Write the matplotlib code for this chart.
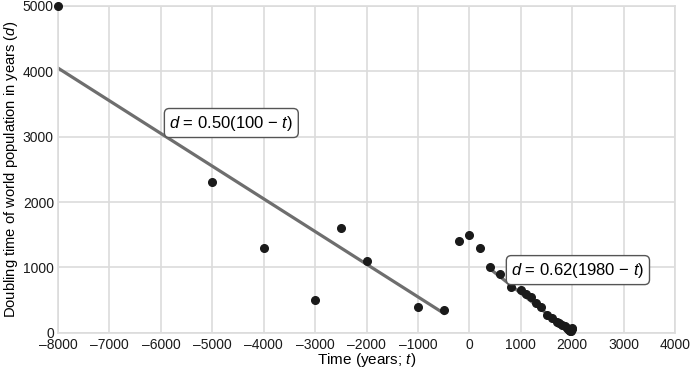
# Doubling time of world population vs time, with two linear fits
import numpy as np
import matplotlib.pyplot as plt

plt.rcParams['font.family'] = ['Liberation Sans', 'DejaVu Sans']
plt.rcParams['mathtext.fontset'] = 'custom'
plt.rcParams['mathtext.rm'] = 'Liberation Sans'
plt.rcParams['mathtext.it'] = 'Liberation Sans:italic'

# data
years = [-8000, -5000, -4000, -3000, -2500, -2000, -1000, -500,
         -200, 0, 200, 400, 600, 800, 1000, 1100, 1200, 1300, 1400,
         1500, 1600, 1700, 1750, 1800, 1850, 1900, 1920, 1940, 1950,
         1960, 1970, 1980, 1990, 2000]
doubling = [5000, 2300, 1300, 500, 1600, 1100, 400, 350,
            1400, 1500, 1300, 1000, 900, 700, 650, 600, 550, 450, 400,
            280, 220, 170, 150, 120, 100, 80, 60, 45, 40,
            35, 35, 45, 60, 80]

fit1_t = [-8000, -500]
fit2_t = [400, 1980]

def fit1(t):
    return 0.50 * (100 - np.asarray(t))

def fit2(t):
    return 0.62 * (1980 - np.asarray(t))

fig = plt.figure(figsize=(6.91, 3.74), dpi=100)
ax = fig.add_axes([0.084, 0.11, 0.893, 0.874])

grid_c = '#dcdcdc'
ax.plot(fit1_t, fit1(fit1_t), color='#6e6e6e', lw=2.3, zorder=2)
ax.plot(fit2_t, fit2(fit2_t), color='#6e6e6e', lw=2.3, zorder=2)
ax.plot(years, doubling, 'o', color='#1a1a1a', markersize=5.5, zorder=3, clip_on=False)

ax.set_xlim(-8000, 4000)
ax.set_ylim(0, 5000)
ax.set_xticks(np.arange(-8000, 4001, 1000))
ax.set_yticks(np.arange(0, 5001, 1000))
ax.set_xticklabels([str(v).replace('-', '\u2013') for v in range(-8000, 4001, 1000)])
ax.grid(True, color=grid_c, lw=1.2)
ax.set_axisbelow(True)
for s in ax.spines.values():
    s.set_color(grid_c)
    s.set_linewidth(1.2)
ax.tick_params(length=0, labelsize=10, colors='#1a1a1a')
ax.tick_params(axis='x', pad=4)
ax.tick_params(axis='y', pad=3)

ax.set_xlabel('Time (years; $t$)', fontsize=11, labelpad=-1)
ax.set_ylabel('Doubling time of world population in years ($d$)', fontsize=10.6, labelpad=2)

box = dict(boxstyle='round,pad=0.3,rounding_size=0.3', fc='white', ec='#555555', lw=1)
ax.text(-4630, 3210, '$d$ = 0.50(100 \u2212 $t$)', fontsize=12, ha='center', va='center', bbox=box)
ax.text(2110, 960, '$d$ = 0.62(1980 \u2212 $t$)', fontsize=12, ha='center', va='center', bbox=box)

fig.savefig('out.png', dpi=100)
